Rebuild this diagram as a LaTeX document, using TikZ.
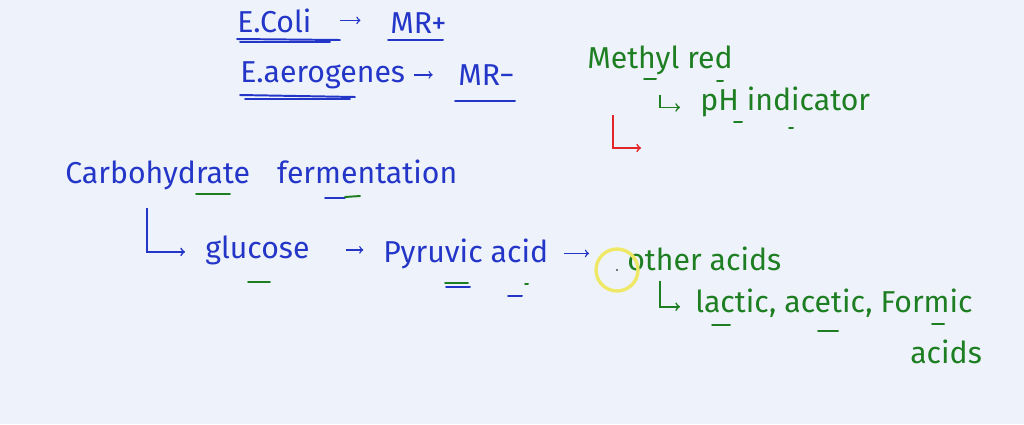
\documentclass[tikz,border=0pt]{standalone}
\usepackage{fontspec}
\setmainfont{Fira Sans}
\usetikzlibrary{calc}
\definecolor{inkblue}{HTML}{2436C8}
\definecolor{inkgreen}{HTML}{1E7E22}
\definecolor{inkred}{HTML}{E3262A}
\definecolor{paper}{HTML}{EEF3FB}
\definecolor{marker}{HTML}{EFE866}
\begin{document}
\begin{tikzpicture}[x=0.025cm,y=-0.025cm,
	pen/.style={font=\fontsize{21.5}{26}\selectfont, inner sep=0pt, anchor=base west},
	arr/.style={->, line width=1pt},
	hook/.style={->, line width=1.2pt},
	ul/.style={line width=1.4pt, line cap=round}]
	\fill[paper] (0,0) rectangle (1024,424);
	\useasboundingbox (0,0) rectangle (1024,424);

	% MR results
	\node[pen, inkblue] (ecoli) at (237,32) {E.Coli};
	\node[pen, inkblue] (mrplus) at (390,33) {MR+};
	\node[pen, inkblue] (aero) at (240,82) {E.aerogenes};
	\node[pen, inkblue] (mrminus) at (458,85) {MR−};
	\draw[arr, inkblue, shorten <=20pt, shorten >=21pt] (ecoli.east) -- (ecoli.east -| mrplus.west);
	\draw[arr, inkblue, shorten <=6pt, shorten >=18pt] (aero.east) -- (aero.east -| mrminus.west);
	\draw[ul, inkblue] (237,39) -- (340,40); \draw[ul, inkblue] (240,42) -- (330,42);
	\draw[ul, inkblue] (388,40) -- (443,40);
	\draw[ul, inkblue] (240,95) -- (355,97); \draw[ul, inkblue] (245,99) -- (350,99);
	\draw[ul, inkblue] (455,101) -- (515,101);

	% indicator
	\node[pen, inkgreen] (methyl) at (587,68) {Methyl red};
	\node[pen, inkgreen] (phind) at (700,110) {pH indicator};
	\draw[hook, inkgreen] ($(methyl.south west)+(73,20)$) |- ($(phind.west)+(-20,6)$);
	\draw[ul, inkgreen] (644,79) -- (656,79);
	\draw[ul, inkgreen] (717,81) -- (723,81);
	\draw[ul, inkgreen] (734,122) -- (742,122);
	\draw[ul, inkgreen] (789,128) -- (793,128);
	\draw[hook, inkred] (613,115) |- (641,148);

	% fermentation
	\node[pen, inkblue] (carbo) at (65,183) {Carbohydrate\hspace{0.9em}fermentation};
	\node[pen, inkblue] (glucose) at (205,258) {glucose};
	\node[pen, inkblue] (pyruvic) at (383,262) {Pyruvic acid};
	\node[pen, inkgreen] (other) at (627,270) {other acids};
	\node[pen, inkgreen] (lactic) at (695,312) {lactic, acetic, Formic};
	\node[pen, inkgreen] (acids) at (910,363) {acids};
	\draw[hook, inkblue] ($(carbo.south west)+(82,18)$) |- ($(glucose.west)+(-20,2)$);
	\draw[arr, inkblue, shorten <=26pt, shorten >=14pt] (glucose.east) -- (glucose.east -| pyruvic.west);
	\draw[arr, inkblue, shorten <=11pt, shorten >=27pt] (pyruvic.east) -- (pyruvic.east -| other.west);
	\draw[hook, inkgreen] ($(other.south west)+(33,10)$) |- ($(lactic.west)+(-15,4)$);
	\draw[ul, inkgreen] (196,194) -- (230,194);
	\draw[ul, inkblue] (325,198) -- (345,198); \draw[ul, inkgreen] (345,197) -- (360,196);
	\draw[ul, inkgreen] (248,282) -- (270,282);
	\draw[ul, inkgreen] (445,283) -- (468,283); \draw[ul, inkblue] (446,287) -- (470,287);
	\draw[ul, inkblue] (508,296) -- (522,296); \draw[ul, inkgreen] (525,284) -- (528,284);
	\draw[ul, inkgreen] (712,325) -- (730,325);
	\draw[ul, inkgreen] (818,331) -- (838,331);
	\draw[ul, inkgreen] (932,324) -- (944,324);

	% pointer
	\draw[marker, line width=2.4pt] (617,270) circle (21);
	\fill[black!70] (617,270) circle (1.2);
\end{tikzpicture}
\end{document}
